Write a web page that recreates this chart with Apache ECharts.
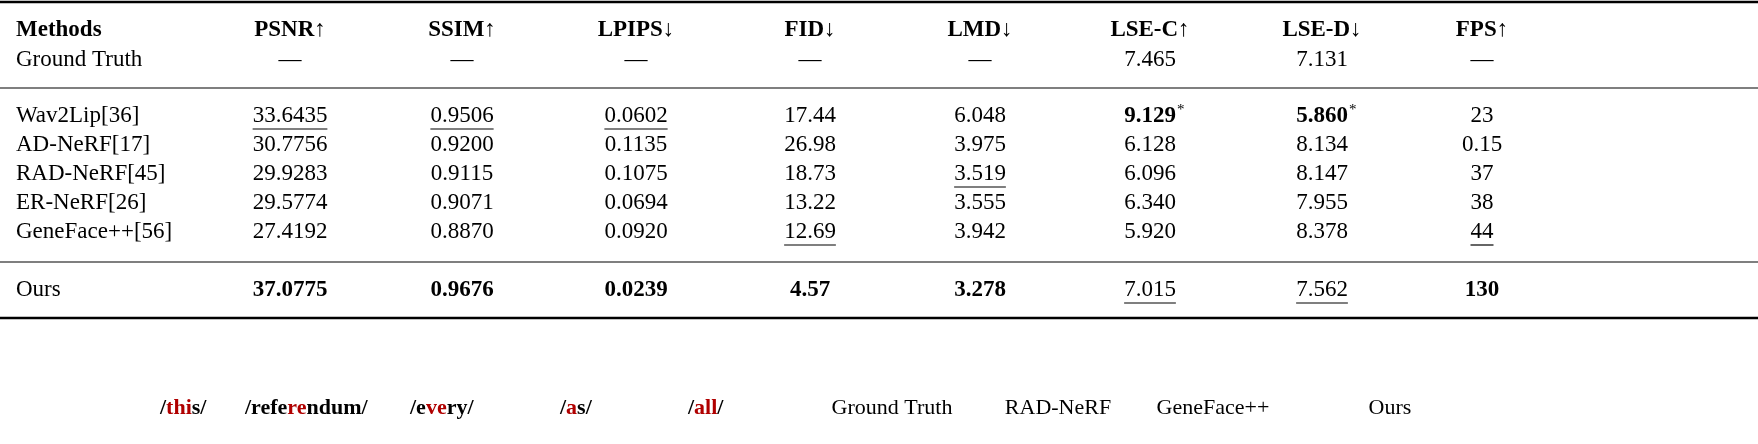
<!DOCTYPE html><html><head><meta charset="utf-8">
<script src="https://cdn.jsdelivr.net/npm/echarts@6/dist/echarts.min.js"></script>
<style>html,body{margin:0;background:#fff}#c{width:1758px;height:444px}</style></head><body><div id="c"></div>
<script>
const headers=['Methods','PSNR↑','SSIM↑','LPIPS↓','FID↓','LMD↓','LSE-C↑','LSE-D↓','FPS↑'];
const methods=['Ground Truth','Wav2Lip[36]','AD-NeRF[17]','RAD-NeRF[45]','ER-NeRF[26]','GeneFace++[56]','Ours'];
const psnr=['—','33.6435','30.7756','29.9283','29.5774','27.4192','37.0775'];
const ssim=['—','0.9506','0.9200','0.9115','0.9071','0.8870','0.9676'];
const lpips=['—','0.0602','0.1135','0.1075','0.0694','0.0920','0.0239'];
const fid=['—','17.44','26.98','18.73','13.22','12.69','4.57'];
const lmd=['—','6.048','3.975','3.519','3.555','3.942','3.278'];
const lsec=['7.465','9.129*','6.128','6.096','6.340','5.920','7.015'];
const lsed=['7.131','5.860*','8.134','8.147','7.955','8.378','7.562'];
const fps=['—','23','0.15','37','38','44','130'];
const boldCells=[[1,6],[1,7],[6,1],[6,2],[6,3],[6,4],[6,5],[6,8]];
const underCells=[[1,1],[1,2],[1,3],[3,5],[5,4],[5,8],[6,6],[6,7]];
const captions=[['/','thi','s/'],['/refe','re','ndum/'],['/e','ve','ry/'],['/','a','s/'],['/','all','/']];
const legendLabels=['Ground Truth','RAD-NeRF','GeneFace++','Ours'];

const cols=[psnr,ssim,lpips,fid,lmd,lsec,lsed,fps];
const colX=[16,290,462,636,810,980,1150,1322,1482];
const rowY=[60,116,145,174,203,232,290];
const FONT='"Liberation Serif", "DejaVu Serif", serif';
const FS=23;
const ctx=document.createElement('canvas').getContext('2d');
function tw(t,b){ctx.font=(b?'bold ':'')+FS+'px '+FONT;return ctx.measureText(t).width;}
const has=(arr,r,c)=>arr.some(a=>a[0]===r&&a[1]===c);
const g=[];
const line=(y,w)=>g.push({type:'line',shape:{x1:0,y1:y,x2:1758,y2:y},style:{stroke:'#000',lineWidth:w}});
line(2,2.5);line(88,1.2);line(262,1.2);line(318,2.5);
headers.forEach((h,i)=>g.push({type:'text',x:colX[i],y:30,style:{text:h,font:'bold '+FS+'px '+FONT,fill:'#000',align:i?'center':'left',verticalAlign:'middle'}}));
methods.forEach((m,r)=>{
  g.push({type:'text',x:colX[0],y:rowY[r],style:{text:m,font:FS+'px '+FONT,fill:'#000',verticalAlign:'middle'}});
  cols.forEach((col,ci)=>{
    const c=ci+1,b=has(boldCells,r,c),u=has(underCells,r,c);
    let t=col[r],star=t.endsWith('*');if(star)t=t.slice(0,-1);
    const w=tw(t,b);
    g.push({type:'text',x:colX[c],y:rowY[r],style:{text:t,font:(b?'bold ':'')+FS+'px '+FONT,fill:'#000',align:'center',verticalAlign:'middle'}});
    if(star)g.push({type:'text',x:colX[c]+w/2+1,y:rowY[r]-6,style:{text:'*',font:'15px '+FONT,fill:'#000',verticalAlign:'middle'}});
    if(u)g.push({type:'line',shape:{x1:colX[c]-w/2,y1:rowY[r]+13,x2:colX[c]+w/2,y2:rowY[r]+13},style:{stroke:'#000',lineWidth:1.2}});
  });
});
const capX=[160,245,410,560,688];
captions.forEach((p,i)=>g.push({type:'text',x:capX[i],y:408,style:{text:'{k|'+p[0]+'}{r|'+p[1]+'}{k|'+p[2]+'}',verticalAlign:'middle',
  rich:{k:{font:'bold 22px '+FONT,fill:'#000'},r:{font:'bold 22px '+FONT,fill:'#b00000'}}}}));
const legX=[892,1058,1213,1390];
legendLabels.forEach((l,i)=>g.push({type:'text',x:legX[i],y:408,style:{text:l,font:'22px '+FONT,fill:'#000',align:'center',verticalAlign:'middle'}}));
const ch=echarts.init(document.getElementById('c'));
ch.setOption({graphic:{elements:g}});
</script></body></html>
